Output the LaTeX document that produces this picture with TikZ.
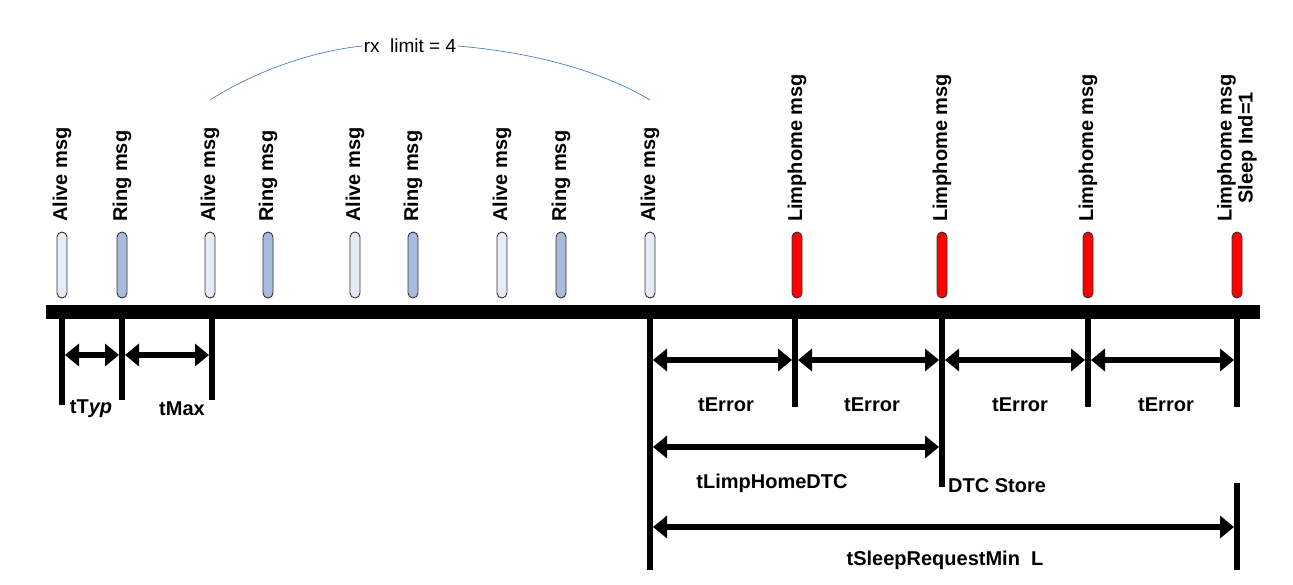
\documentclass[tikz,border=0pt]{standalone}
\usepackage{fontspec}
\setmainfont{Liberation Sans}
\usetikzlibrary{arrows.meta}
\definecolor{alive}{HTML}{E6ECF6}
\definecolor{ring}{HTML}{A7BCDD}
\definecolor{arcb}{HTML}{4F7FC0}
\begin{document}
\begin{tikzpicture}[x=1pt,y=-1pt,
  pill/.style={draw=black!80,line width=0.9pt,rounded corners=5pt,minimum width=10pt,minimum height=66pt,inner sep=0pt},
  lbl/.style={rotate=90,anchor=west,font=\bfseries\fontsize{20}{21}\selectfont,inner sep=0pt},
  tick/.style={line width=6pt},
  dim/.style={line width=6pt,{Triangle[length=14pt,width=22pt]}-{Triangle[length=14pt,width=22pt]}},
  txt/.style={font=\bfseries\fontsize{20}{22}\selectfont,inner sep=0pt}]
\useasboundingbox (0,0) rectangle (1293,584);
\fill (46,305) rectangle (1260,319);
% pills and labels
\foreach \n/\x/\c/\t in {a/62/alive/Alive msg,b/122/ring/Ring msg,c/210/alive/Alive msg,d/268/ring/Ring msg,e/355/alive/Alive msg,f/413/ring/Ring msg,g/502/alive/Alive msg,h/561/ring/Ring msg,i/650/alive/Alive msg,j/797/red/Limphome msg,k/942/red/Limphome msg,l/1088/red/Limphome msg}{
  \node[pill,fill=\c] (p\n) at (\x,265) {};
  \node[lbl] (t\n) at (\x,222) {\t};
}
\node[pill,fill=red] (pm) at (1237,265) {};
\node[lbl,align=center] (tm) at (1237,222) {Limphome msg\\Sleep Ind=1};
% arc
\coordinate (a1) at (210,100); \coordinate (a2) at (650,100);
\node[font=\fontsize{19}{21}\selectfont,fill=white,inner sep=1pt] (rx) at (410,46) {rx\ \ limit = 4};
\draw[arcb,line width=0.7pt] (a1) .. controls (260,68) and (320,50) .. (rx.west);
\draw[arcb,line width=0.7pt] (rx.east) .. controls (530,52) and (600,70) .. (a2);
% ticks
\coordinate (v1t) at (62,319); \coordinate (v1b) at (62,405);
\coordinate (v2t) at (122,319); \coordinate (v2b) at (122,400);
\coordinate (v3t) at (212,319); \coordinate (v3b) at (212,400);
\coordinate (w1t) at (650,319); \coordinate (w1b) at (650,570);
\coordinate (w2t) at (795,319); \coordinate (w2b) at (795,407);
\coordinate (w3t) at (942,319); \coordinate (w3b) at (942,487);
\coordinate (w4t) at (1088,319); \coordinate (w4b) at (1088,407);
\coordinate (w5t) at (1237,319); \coordinate (w5b) at (1237,407);
\coordinate (w6t) at (1237,483); \coordinate (w6b) at (1237,570);
\foreach \p in {v1,v2,v3,w1,w2,w3,w4,w5,w6} \draw[tick] (\p t) -- (\p b);
% dimension arrows
\coordinate (d1a) at (65,355); \coordinate (d1b) at (119,355);
\coordinate (d2a) at (125,355); \coordinate (d2b) at (209,355);
\draw[dim] (d1a) -- (d1b); \draw[dim] (d2a) -- (d2b);
\coordinate (e1) at (653,360); \coordinate (e2) at (792,360);
\coordinate (e3) at (798,360); \coordinate (e4) at (939,360);
\coordinate (e5) at (945,360); \coordinate (e6) at (1085,360);
\coordinate (e7) at (1091,360); \coordinate (e8) at (1234,360);
\draw[dim] (e1) -- (e2); \draw[dim] (e3) -- (e4); \draw[dim] (e5) -- (e6); \draw[dim] (e7) -- (e8);
\coordinate (f1) at (653,447); \coordinate (f2) at (939,447);
\draw[dim] (f1) -- (f2);
\coordinate (g1) at (653,527); \coordinate (g2) at (1234,527);
\draw[dim] (g1) -- (g2);
% labels
\node[txt] (l1) at (91,409) {tT\textit{yp}};
\node[txt] (l2) at (182,409) {tMax};
\node[txt] (l3) at (726,405) {tError};
\node[txt] (l4) at (872,405) {tError};
\node[txt] (l5) at (1020,405) {tError};
\node[txt] (l6) at (1166,405) {tError};
\node[txt] (l7) at (772,483) {tLimpHomeDTC};
\node[txt,anchor=west] (l8) at (948,486) {DTC Store};
\node[txt] (l9) at (945,560) {tSleepRequestMin\ \ L};
\end{tikzpicture}
\end{document}
